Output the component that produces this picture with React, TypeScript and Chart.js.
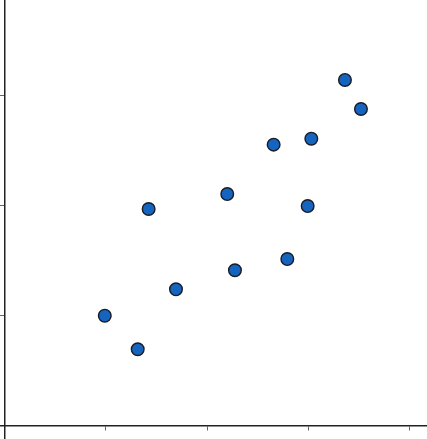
import React, { useEffect, useRef } from "react";
import { Chart, registerables } from "chart.js";

Chart.register(...registerables);

const xValues = [0.99, 1.315, 1.423, 1.693, 2.199, 2.275, 2.657, 2.792, 2.993, 3.029, 3.361, 3.519];
const yValues = [1.0, 0.695, 1.97, 1.24, 2.106, 1.413, 2.555, 1.515, 1.997, 2.609, 3.143, 2.879];
const xTicks = [1, 2, 3, 4];
const yTicks = [1, 2, 3];

export default function App() {
  const ref = useRef<HTMLCanvasElement | null>(null);
  useEffect(() => {
    if (!ref.current) return;
    const points = xValues.map((x, i) => ({ x, y: yValues[i] }));
    const chart = new Chart(ref.current, {
      type: "scatter",
      data: {
        datasets: [
          {
            data: points,
            backgroundColor: "#1565c0",
            borderColor: "#1a1c24",
            borderWidth: 1.4,
            pointRadius: 6.3,
            pointHoverRadius: 6.3,
          },
        ],
      },
      options: {
        animation: false,
        responsive: true,
        maintainAspectRatio: false,
        layout: { padding: 0, autoPadding: false } as any,
        plugins: { legend: { display: false }, tooltip: { enabled: false } },
        scales: {
          x: {
            type: "linear",
            min: -0.0444,
            max: 4.171,
            position: { y: 0 } as any,
            afterBuildTicks: (s: any) => {
              s.ticks = xTicks.map((v) => ({ value: v }));
            },
            ticks: { display: false },
            grid: { drawOnChartArea: false, drawTicks: true, tickLength: 4, color: "#666", lineWidth: 1 },
            border: { display: true, color: "#222", width: 1.5 },
          },
          y: {
            type: "linear",
            min: -0.121,
            max: 3.87,
            position: { x: 0 } as any,
            afterBuildTicks: (s: any) => {
              s.ticks = yTicks.map((v) => ({ value: v }));
            },
            ticks: { display: false },
            grid: { drawOnChartArea: false, drawTicks: true, tickLength: 4, color: "#666", lineWidth: 1 },
            border: { display: true, color: "#222", width: 1.5 },
          },
        },
      },
    });
    return () => chart.destroy();
  }, []);
  return (
    <div style={{ position: "absolute", left: 0, top: 0, width: 427, height: 439 }}>
      <canvas ref={ref} style={{ display: "block" }} />
    </div>
  );
}
